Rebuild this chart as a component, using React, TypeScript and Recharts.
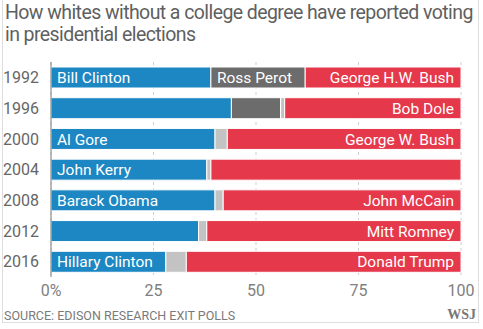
import { Bar, BarChart, CartesianGrid, LabelList, XAxis, YAxis } from "recharts";

// White voters without a college degree, share of vote by party (%)
const years = ["1992", "1996", "2000", "2004", "2008", "2012", "2016"];
const democrat = [39, 44, 40, 38, 40, 36, 28];
const perot = [23, 12, 0, 0, 0, 0, 0];
const other = [0, 1, 3, 1, 2, 2, 5];
const republican = [38, 43, 57, 61, 58, 62, 67];

const democratNames = ["Bill Clinton", "", "Al Gore", "John Kerry", "Barack Obama", "", "Hillary Clinton"];
const perotNames = ["Ross Perot", "", "", "", "", "", ""];
const republicanNames = ["George H.W. Bush", "Bob Dole", "George W. Bush", "", "John McCain", "Mitt Romney", "Donald Trump"];

const xTicks = [0, 25, 50, 75, 100];

const BLUE = "#1d87c3";
const RED = "#e5384a";
const DARK_GRAY = "#6c6c6c";
const LIGHT_GRAY = "#c3c3c3";
const FONT = "Roboto, 'Noto Sans', sans-serif";

const rows = years.map((year, i) => ({
  year,
  dem: democrat[i],
  perot: perot[i],
  other: other[i],
  rep: republican[i],
  demName: democratNames[i],
  perotName: perotNames[i],
  repName: republicanNames[i],
}));

function LeftLabel(props: any) {
  const { x, y, width, height, value } = props;
  if (!value || !width) return null;
  return (
    <text x={x + 6} y={y + height / 2} dy="0.36em" fill="#fff" fontSize={15.5} fontFamily={FONT}>
      {value}
    </text>
  );
}

function RightLabel(props: any) {
  const { x, y, width, height, value } = props;
  if (!value || !width) return null;
  return (
    <text x={x + width - 7} y={y + height / 2} dy="0.36em" fill="#fff" fontSize={15.5} fontFamily={FONT} textAnchor="end">
      {value}
    </text>
  );
}

function YearTick(props: any) {
  const { y, payload } = props;
  return (
    <text x={3} y={y} dy="0.36em" fill="#666" fontSize={16} fontFamily={FONT}>
      {payload.value}
    </text>
  );
}

export default function App() {
  return (
    <div style={{ position: "absolute", left: 0, top: 0, width: 483, height: 329, background: "#fff", overflow: "hidden" }}>
      <div
        style={{
          position: "absolute",
          left: 2,
          top: 0,
          width: 477,
          height: 323,
          borderLeft: "1px solid #dedede",
          borderRight: "1px solid #dedede",
          borderBottom: "1px solid #dedede",
          boxSizing: "border-box",
        }}
      />
      <BarChart
        width={483}
        height={329}
        data={rows}
        layout="vertical"
        margin={{ top: 62, right: 22, bottom: 27, left: 0 }}
        barSize={21}
        style={{ position: "absolute", left: 0, top: 0 }}
      >
        <CartesianGrid horizontal={false} stroke="#cfcfcf" strokeDasharray="3 3" />
        <XAxis
          type="number"
          domain={[0, 100]}
          ticks={xTicks}
          interval={0}
          height={25}
          axisLine={false}
          tickLine={false}
          tick={{ fill: "#808080", fontSize: 16, fontFamily: FONT }}
          tickFormatter={(v: number) => (v === 0 ? "0%" : String(v))}
        />
        <YAxis
          type="category"
          dataKey="year"
          width={51}
          axisLine={{ stroke: "#7a7a7a" }}
          tickLine={false}
          tick={<YearTick />}
        />
        <Bar dataKey="dem" stackId="a" fill={BLUE} stroke="#fff" strokeWidth={1} isAnimationActive={false}>
          <LabelList dataKey="demName" content={<LeftLabel />} />
        </Bar>
        <Bar dataKey="perot" stackId="a" fill={DARK_GRAY} stroke="#fff" strokeWidth={1} isAnimationActive={false}>
          <LabelList dataKey="perotName" content={<LeftLabel />} />
        </Bar>
        <Bar dataKey="other" stackId="a" fill={LIGHT_GRAY} stroke="#fff" strokeWidth={1} isAnimationActive={false} />
        <Bar dataKey="rep" stackId="a" fill={RED} stroke="#fff" strokeWidth={1} isAnimationActive={false}>
          <LabelList dataKey="repName" content={<RightLabel />} />
        </Bar>
      </BarChart>
      <svg width={483} height={329} style={{ position: "absolute", left: 0, top: 0, pointerEvents: "none" }}>
        <g fill="#5f5f5f" fontFamily={FONT} fontSize={19.5} style={{ letterSpacing: "-0.58px" }}>
          <text x={5} y={19}>
            How whites without a college degree have reported voting
          </text>
          <text x={5} y={41}>
            in presidential elections
          </text>
        </g>
        <text x={4} y={320} fill="#7a7a7a" fontFamily={FONT} fontSize={12.5}>
          SOURCE: EDISON RESEARCH EXIT POLLS
        </text>
        <text x={476} y={319} fill="#777" fontFamily="'Liberation Serif', serif" fontWeight="bold" fontSize={14} textAnchor="end">
          WSJ
        </text>
      </svg>
    </div>
  );
}
